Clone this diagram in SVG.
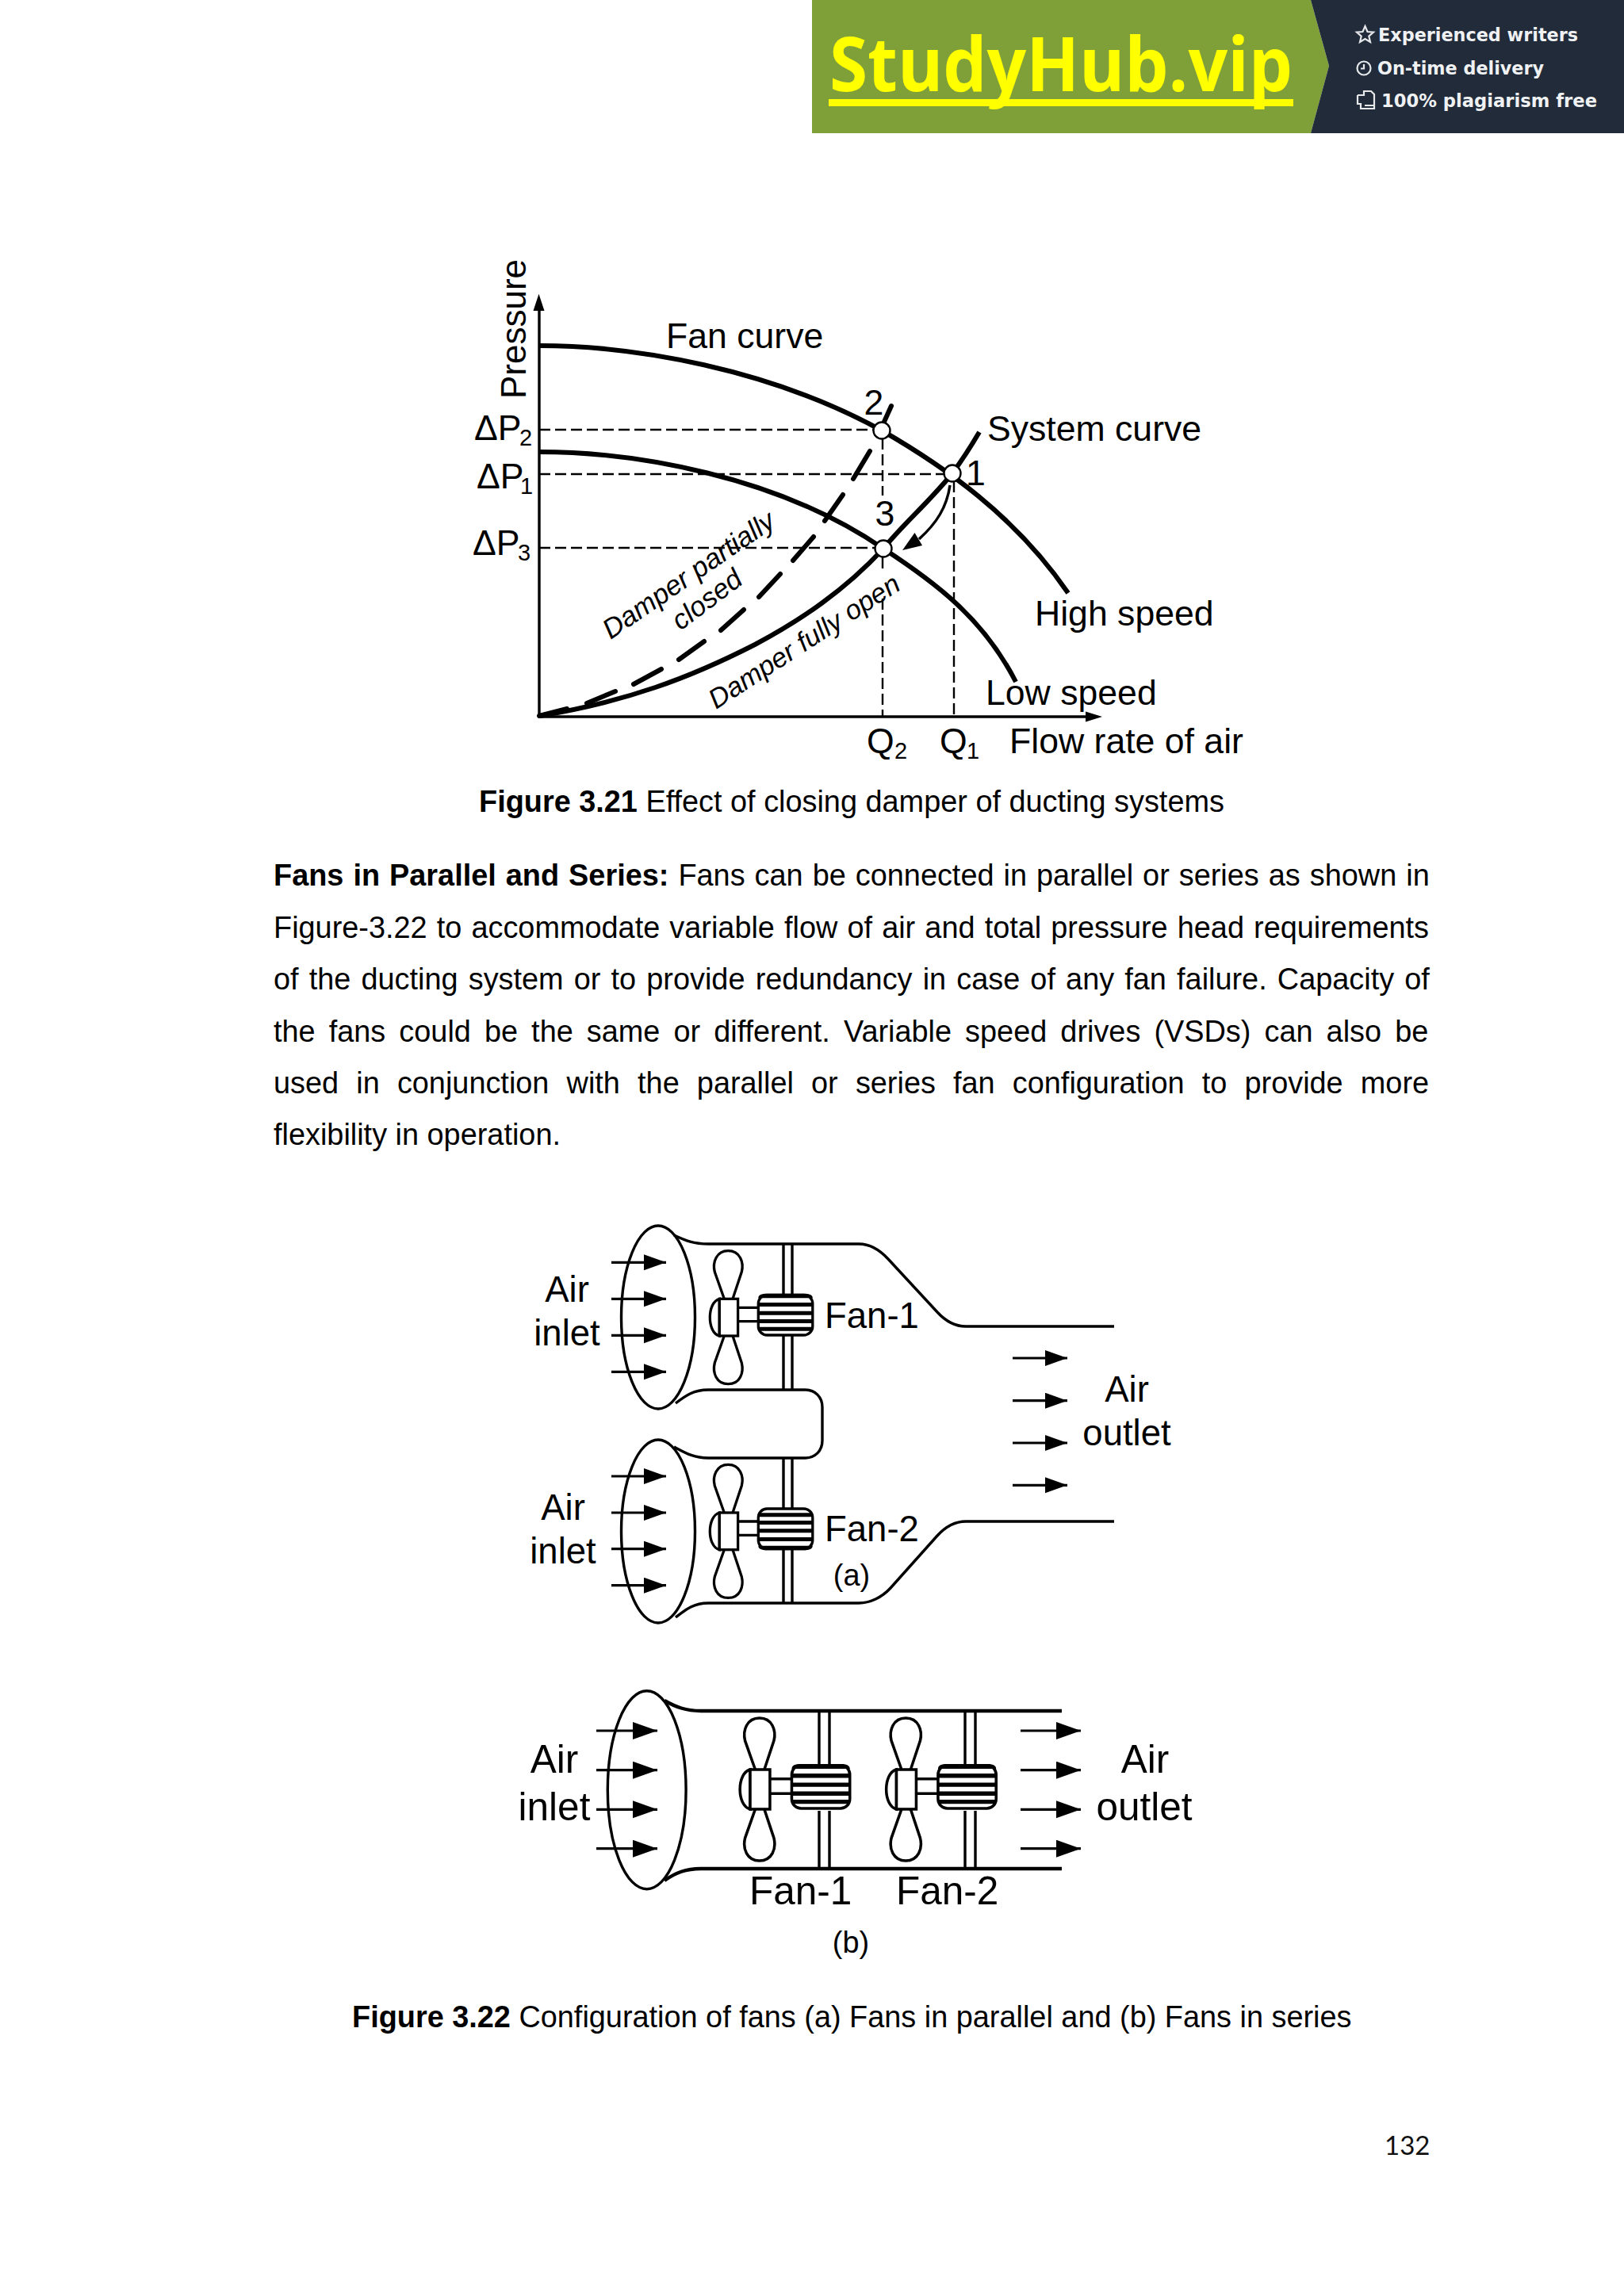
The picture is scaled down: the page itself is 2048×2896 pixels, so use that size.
<svg xmlns="http://www.w3.org/2000/svg" xmlns:xlink="http://www.w3.org/1999/xlink" width="2048" height="2896" viewBox="0 0 2048 2896">
<style>
text{font-family:"Liberation Sans",Arial,sans-serif;fill:#000}
.l{font-size:44.600px}
.a{font-size:45.500px}
.c{font-size:49.500px}
.s{font-size:29px}
.r{font-size:35px;font-style:italic}
.b{font-size:37.86px}
.m{text-anchor:middle}
.bd{font-weight:bold}
.line{fill:none;stroke:#000;stroke-width:3.4}
.thick{fill:none;stroke:#000;stroke-width:6}
.dash{fill:none;stroke:#000;stroke-width:2.4;stroke-dasharray:14 6}
.wh{font-family:"DejaVu Sans",sans-serif;font-weight:bold;font-size:23px;fill:#f0f1f3}
.ic{fill:none;stroke:#e6e8ea;stroke-width:2.2}
.fp{fill:#fff;stroke:#000;stroke-width:3.3}
.arr{fill:none;stroke:#000;stroke-width:3.2}
</style>
<defs>
<marker id="head" markerUnits="userSpaceOnUse" markerWidth="30" markerHeight="22" refX="28" refY="10" orient="auto"><path d="M0 0L28 10L0 20Z" fill="#000"/></marker>
<marker id="headb" markerUnits="userSpaceOnUse" markerWidth="33" markerHeight="24" refX="31" refY="11" orient="auto"><path d="M0 0L31 11L0 22Z" fill="#000"/></marker>
<g id="fan">
<path class="fp" d="M6 0L-6-34C-9-46-4-60.700 11-60.700C26-60.700 31-46 28-34L16.700 0"/>
<path class="fp" d="M6 46.700L-6 80.700C-9 93-4 107.400 11 107.400C26 107.400 31 93 28 80.700L16.700 46.700"/>
<path class="fp" d="M0 0C-16 4-16 43 0 46.700Z"/>
<rect class="fp" x="0" y="0" width="23.300" height="46.700"/>
<path class="fp" d="M23.300 11H48.400M23.300 28.300H48.400"/>
</g>
<g id="motor">
<rect class="fp" x="49" y="-5" width="68.500" height="50.700" rx="11"/>
<path d="M49-1C49-5 53-6.500 60-6.500H107C113-6.500 117.500-5 117.500-1Z" fill="#000"/>
<path d="M49 4.700H117.500V9.700H49ZM49 15.400H117.500V20.400H49ZM49 25.800H117.500V30.800H49ZM49 35.500H117.500V40.500H49Z" fill="#000"/>
</g>
</defs>
<rect width="2048" height="2896" fill="#fff"/>
<g id="banner">
<polygon points="1024,0 1653,0 1676,83 1653,168 1024,168" fill="#7f9f38"/>
<polygon points="1653,0 2048,0 2048,168 1653,168 1676,83" fill="#212b3a"/>
<text x="1046" y="115" font-size="95" font-weight="bold" textLength="584" lengthAdjust="spacingAndGlyphs" style="font-family:'Open Sans',sans-serif;fill:#ffff00">StudyHub.vip</text>
<rect x="1045" y="125" width="586" height="9" fill="#ffff00"/>
<path class="ic" d="M1721.500 33l3 7 7.500 .7-5.700 5 1.700 7.300-6.500-3.900-6.500 3.900 1.700-7.300-5.700-5 7.500-.7z"/>
<circle class="ic" cx="1720" cy="86" r="8.500"/><path class="ic" d="M1720 81v5.500h-4"/>
<path class="ic" d="M1712 120h8v-5h9l4 4v14h-12M1712 120v11h4v6h17v-4"/>
<text class="wh" x="1738" y="52" textLength="252" lengthAdjust="spacingAndGlyphs">Experienced writers</text>
<text class="wh" x="1737" y="94" textLength="210" lengthAdjust="spacingAndGlyphs">On-time delivery</text>
<text class="wh" x="1742" y="135" textLength="272" lengthAdjust="spacingAndGlyphs">100% plagiarism free</text>
</g>
<g id="chart">
<g id="chart-connectors">
<path class="dash" d="M680 542H1101M680 598H1190M680 691H1103M1113 553V625M1113 703V723M1113 755V903M1203 607V903"/>
<path class="line" d="M680 905V385M679 904H1375"/>
<polygon points="679.500,370.700 672.500,392 686.500,392"/>
<polygon points="1390,904 1369,897.500 1369,910.500"/>
<path class="thick" d="M680 436C800 436 970 465 1112 543C1190 588 1280 650 1347 748"/>
<path class="thick" d="M680 570C800 570 980 600 1114 692C1180 735 1240 780 1281 860"/>
<path class="thick" d="M680 903C790 885 870 855 952 813C1010 782 1065 745 1114 692C1140 660 1170 635 1201 597C1215 578 1225 562 1235 545"/>
<path class="thick" stroke-linecap="round" d="M680 903L715 894M740 887L776 872M799 863L834 844M856 832L888 809M909 795L938 769M957 753L984 724M1000 707L1026 677M1040 657L1063 624M1076 604L1097 569M1115 532L1124 512"/>
<path class="line" d="M1198 612C1194 640 1181 660 1159 680"/>
<polygon points="1138,694 1153.500,672 1163,688"/>
<circle class="fp" style="stroke-width:2.400" cx="1112" cy="543" r="10.500"/>
<circle class="fp" style="stroke-width:2.400" cx="1201" cy="597" r="10.500"/>
<circle class="fp" style="stroke-width:2.400" cx="1114" cy="692" r="10.500"/>
</g>
<text class="l" transform="translate(663 503) rotate(-90)" style="font-size:44px">Pressure</text>
<text class="l" x="840" y="439">Fan curve</text>
<text class="l" x="598" y="555">ΔP</text><text class="s" x="655" y="562">2</text>
<text class="l" x="601" y="616">ΔP</text><text class="s" x="656" y="623">1</text>
<text class="l" x="596" y="700">ΔP</text><text class="s" x="653" y="707">3</text>
<text class="l m" x="1102" y="523">2</text>
<text class="l" x="1218" y="612">1</text>
<text class="l m" x="1116" y="663">3</text>
<text class="l" x="1245" y="556">System curve</text>
<text class="l" x="1305" y="789">High speed</text>
<text class="l" x="1243" y="889">Low speed</text>
<text class="l" x="1093" y="950">Q</text><text class="s" x="1128" y="957">2</text>
<text class="l" x="1185" y="950">Q</text><text class="s" x="1219" y="957">1</text>
<text class="l" x="1273" y="950">Flow rate of air</text>
<text class="r" transform="translate(770 807) rotate(-34.500)">Damper partially</text>
<text class="r" transform="translate(858 796) rotate(-37)">closed</text>
<text class="r" transform="translate(903 895) rotate(-33)" style="font-size:34.500px">Damper fully open</text>
</g>
<text class="b" x="604" y="1024"><tspan class="bd">Figure 3.21</tspan> Effect of closing damper of ducting systems</text>
<g id="paragraph">
<text class="b" x="345" y="1117" style="word-spacing:1.500px"><tspan class="bd">Fans in Parallel and Series:</tspan> Fans can be connected in parallel or series as shown in</text>
<text class="b" x="345" y="1183" style="word-spacing:1.600px">Figure-3.22 to accommodate variable flow of air and total pressure head requirements</text>
<text class="b" x="345" y="1248" style="word-spacing:2.630px">of the ducting system or to provide redundancy in case of any fan failure. Capacity of</text>
<text class="b" x="345" y="1314" style="word-spacing:6.560px">the fans could be the same or different. Variable speed drives (VSDs) can also be</text>
<text class="b" x="345" y="1379" style="word-spacing:11.640px">used in conjunction with the parallel or series fan configuration to provide more</text>
<text class="b" x="345" y="1444">flexibility in operation.</text>
</g>
<g id="figure-a">
<g id="duct-a">
<path class="line" d="M850 1558C865 1565 875 1569 893 1569H1083C1095 1569 1108 1575 1120 1588L1182 1655C1193 1667 1205 1673 1218 1673H1405"/>
<path class="line" d="M852 1770C865 1760 875 1753 893 1753H1015C1028 1753 1037 1762 1037 1775V1817C1037 1830 1028 1839 1015 1839H893C875 1839 865 1833 850 1825"/>
<path class="line" d="M852 2040C865 2030 875 2022 893 2022H1083C1097 2022 1112 2015 1123 2003L1182 1937C1193 1925 1205 1919 1218 1919H1405"/>
<ellipse class="line" cx="830" cy="1661.500" rx="46.500" ry="115.500"/>
<ellipse class="line" cx="830" cy="1931.500" rx="46.500" ry="115.500"/>
<path class="line" d="M988 1569V1633M999 1569V1633M988 1685V1753M999 1685V1753M988 1839V1902M999 1839V1902M988 1955V2022M999 2022V1955"/>
</g>
<g id="fan-a1"><use xlink:href="#fan" href="#fan" x="907.300" y="1638.300"/><use xlink:href="#motor" href="#motor" x="907.300" y="1638.300"/></g>
<g id="fan-a2"><use xlink:href="#fan" href="#fan" x="907.300" y="1908"/><use xlink:href="#motor" href="#motor" transform="translate(907.300 1948.700) scale(1 -1)"/></g>
<g id="arrows-a" class="arr">
<path marker-end="url(#head)" d="M771 1592.300H840"/><path marker-end="url(#head)" d="M771 1638.300H840"/><path marker-end="url(#head)" d="M771 1684.300H840"/><path marker-end="url(#head)" d="M771 1730.300H840"/>
<path marker-end="url(#head)" d="M771 1862H840"/><path marker-end="url(#head)" d="M771 1908H840"/><path marker-end="url(#head)" d="M771 1953.700H840"/><path marker-end="url(#head)" d="M771 1999.700H840"/>
<path marker-end="url(#head)" d="M1277 1713H1346"/><path marker-end="url(#head)" d="M1277 1766.700H1346"/><path marker-end="url(#head)" d="M1277 1820H1346"/><path marker-end="url(#head)" d="M1277 1873.300H1346"/>
</g>
<text class="a m" x="715" y="1642">Air</text><text class="a m" x="715" y="1697">inlet</text>
<text class="a m" x="710" y="1917">Air</text><text class="a m" x="710" y="1972">inlet</text>
<text class="a m" x="1421" y="1768">Air</text><text class="a m" x="1421" y="1823">outlet</text>
<text class="a" x="1040" y="1675">Fan-1</text><text class="a" x="1040" y="1944">Fan-2</text>
<text class="b m" x="1074" y="2000">(a)</text>
</g>
<g id="figure-b">
<g id="duct-b">
<path class="thick" style="stroke-width:4.400" d="M838 2145C852 2153 865 2158 884 2158H1339M838 2372C852 2362 865 2357 884 2357H1339"/>
<ellipse class="line" cx="815.700" cy="2257.700" rx="49.400" ry="125"/>
<path class="line" d="M1033 2158V2226M1046 2158V2226M1033 2284V2357M1046 2284V2357M1217 2158V2226M1230 2158V2226M1217 2284V2357M1230 2284V2357"/>
</g>
<g id="fan-b1" transform="translate(946 2232) scale(1.07)"><use xlink:href="#fan" href="#fan"/><use xlink:href="#motor" href="#motor"/></g>
<g id="fan-b2" transform="translate(1130.500 2232) scale(1.07)"><use xlink:href="#fan" href="#fan"/><use xlink:href="#motor" href="#motor"/></g>
<g id="arrows-b" class="arr">
<path marker-end="url(#headb)" d="M752 2183H829"/><path marker-end="url(#headb)" d="M752 2232.700H829"/><path marker-end="url(#headb)" d="M752 2282.300H829"/><path marker-end="url(#headb)" d="M752 2331.700H829"/>
<path marker-end="url(#headb)" d="M1287 2183H1363"/><path marker-end="url(#headb)" d="M1287 2232.700H1363"/><path marker-end="url(#headb)" d="M1287 2282.300H1363"/><path marker-end="url(#headb)" d="M1287 2331.700H1363"/>
</g>
<text class="c m" x="699" y="2236">Air</text><text class="c m" x="699" y="2296">inlet</text>
<text class="c m" x="1444" y="2236">Air</text><text class="c m" x="1443" y="2296">outlet</text>
<text class="c" x="945" y="2402">Fan-1</text><text class="c" x="1130" y="2402">Fan-2</text>
<text class="b m" x="1073" y="2463">(b)</text>
</g>
<text class="b" x="444" y="2557"><tspan class="bd">Figure 3.22</tspan> Configuration of fans (a) Fans in parallel and (b) Fans in series</text>
<text x="1746" y="2718" font-size="33" style="font-family:Lato,sans-serif;fill:#111">132</text>
</svg>
